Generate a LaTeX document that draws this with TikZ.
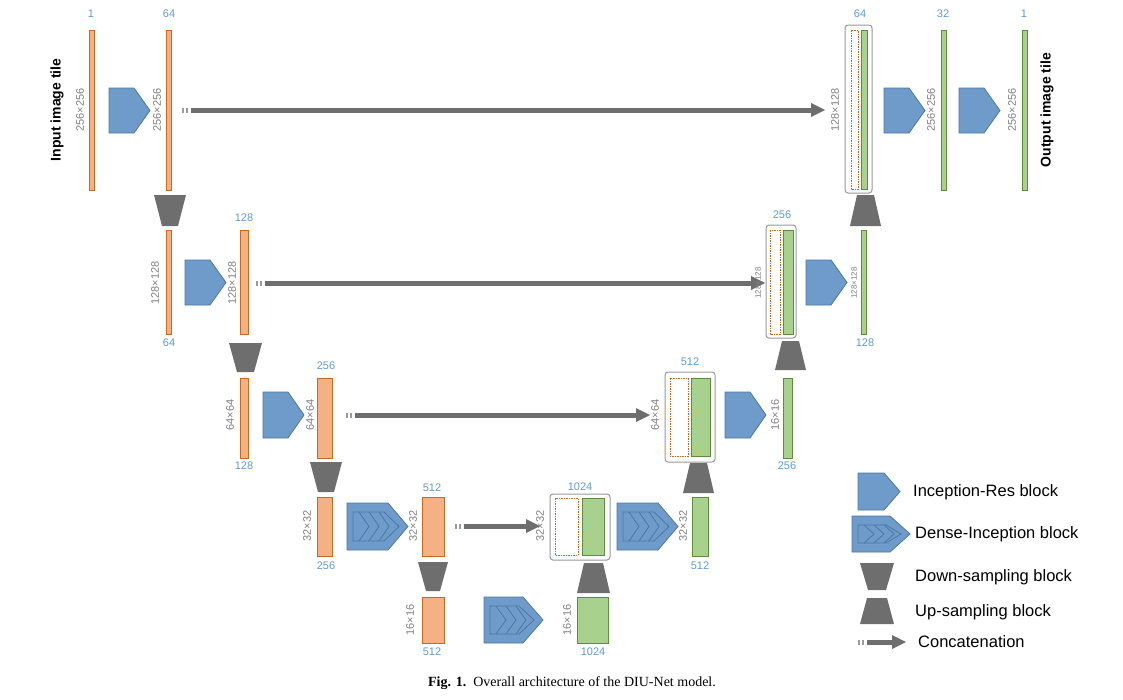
\documentclass[tikz,border=0pt]{standalone}
\usepackage{fontspec}
\setmainfont{Liberation Sans}
\newfontfamily\capf{Liberation Serif}
\definecolor{ofill}{HTML}{F4B183}\definecolor{odraw}{HTML}{D0651E}
\definecolor{gfill}{HTML}{A9D18E}\definecolor{gdraw}{HTML}{5E8C3C}
\definecolor{bfill}{HTML}{6E9BC9}\definecolor{bdraw}{HTML}{4A77A6}
\definecolor{dgray}{HTML}{6E6E6E}\definecolor{lblue}{HTML}{5B9BD5}\definecolor{sgray}{HTML}{808080}
\tikzset{
 obar/.style={fill=ofill,draw=odraw,line width=1pt},
 gbar/.style={fill=gfill,draw=gdraw,line width=1pt},
 blk/.style={fill=bfill,draw=bdraw,line width=0.8pt},
 trap/.style={fill=dgray,draw=none},
 cbox/.style={draw=gray!80,line width=1pt,rounded corners=3pt,fill=white},
 dbox/.style={draw=odraw,dashed,dash pattern=on 1.5pt off 1pt,line width=1pt},
 num/.style={text=lblue,font=\fontsize{11}{12}\selectfont,inner sep=0},
 sz/.style={text=sgray,rotate=90,font=\fontsize{11}{12}\selectfont,inner sep=0},
 szs/.style={text=sgray,rotate=90,font=\fontsize{8}{9}\selectfont,inner sep=0},
 leg/.style={anchor=west,font=\fontsize{16.5}{18}\selectfont,inner sep=0},
}
\newcommand\incp[4]{\draw[blk] (#1,#3) -- ({#2-16},#3) -- (#2,{(#3+#4)/2}) -- ({#2-16},#4) -- (#1,#4) -- cycle;}
\newcommand\dens[4]{\draw[blk] (#1,#3) -- ({#2-20},#3) -- (#2,{(#3+#4)/2}) -- ({#2-20},#4) -- (#1,#4) -- cycle;
 \draw[bdraw,line width=0.8pt] ({#1+6},{#3+9}) -- ({#2-24},{#3+9}) -- ({#2-9},{(#3+#4)/2}) -- ({#2-24},{#4-9}) -- ({#1+6},{#4-9}) -- cycle;
 \foreach \k in {0,10,20}{\draw[bdraw,line width=0.8pt] ({#1+12+\k},{#3+9}) -- ({#1+22+\k},{(#3+#4)/2}) -- ({#1+12+\k},{#4-9});}}
\newcommand\down[4]{\fill[dgray] (#1,#3) -- (#2,#3) -- ({#2-8},#4) -- ({#1+8},#4) -- cycle;}
\newcommand\up[4]{\fill[dgray] ({#1+7},#3) -- ({#2-7},#3) -- (#2,#4) -- (#1,#4) -- cycle;}
\newcommand\skiparr[3]{\fill[dgray!70] (#1,{#3-2.5}) rectangle ({#1+2},{#3+2.5});
 \fill[dgray!70] ({#1+4},{#3-2.5}) rectangle ({#1+6},{#3+2.5});
 \fill[dgray] ({#1+9},{#3-2.5}) rectangle ({#2-14},{#3+2.5});
 \fill[dgray] ({#2-14},{#3-7}) -- (#2,#3) -- ({#2-14},{#3+7}) -- cycle;}
\begin{document}
\begin{tikzpicture}[x=1pt,y=-1pt]
\useasboundingbox (0,0) rectangle (1123,699);
% ---- row 1
\draw[obar] (89,30) rectangle (94,190) coordinate (in1);
\node[num] at (91,14) {1};
\node[sz] at (80,110) {256×256};
\node[rotate=90,font=\bfseries\fontsize{14}{16}\selectfont,inner sep=0] at (57,110) {Input image tile};
\incp{109}{150}{88}{133}
\draw[obar] (166,30) rectangle (171,190);
\node[num] at (169,14) {64};
\node[sz] at (157,110) {256×256};
\skiparr{182}{825}{110}
\draw[cbox] (845,25) rectangle (872,193);
\draw[dbox] (851,30) rectangle (858,189);
\draw[gbar] (861,30) rectangle (867,189);
\node[num] at (860,14) {64};
\node[sz] at (835,110) {128×128};
\incp{884}{925}{88}{133}
\draw[gbar] (941,30) rectangle (946,190);
\node[num] at (943,14) {32};
\node[sz] at (931,110) {256×256};
\incp{959}{1000}{88}{133}
\draw[gbar] (1022,30) rectangle (1027,190);
\node[num] at (1024,14) {1};
\node[sz] at (1012,110) {256×256};
\node[rotate=90,font=\bfseries\fontsize{14}{16}\selectfont,inner sep=0] at (1047,110) {Output image tile};
\down{154}{186}{195}{226}
\up{850}{881}{195}{226}
% ---- row 2
\draw[obar] (166,230) rectangle (171,334);
\node[num] at (169,343) {64};
\node[sz] at (155,283) {128×128};
\incp{185}{226}{260}{305}
\draw[obar] (240,230) rectangle (248,334);
\node[num] at (244,218) {128};
\node[sz] at (232,283) {128×128};
\skiparr{256}{765}{283}
\draw[cbox] (766,225) rectangle (796,338);
\draw[dbox] (770,230) rectangle (780,334);
\draw[gbar] (783,230) rectangle (793,334);
\node[num] at (782,215) {256};
\node[szs] at (758,283) {128×128};
\incp{806}{847}{260}{305}
\draw[gbar] (861,230) rectangle (866,334);
\node[num] at (865,343) {128};
\node[szs] at (854,283) {128×128};
\down{229}{262}{343}{372}
\up{775}{806}{341}{370}
% ---- row 3
\draw[obar] (240,378) rectangle (248,458);
\node[num] at (244,466) {128};
\node[sz] at (230,415) {64×64};
\incp{263}{304}{392}{438}
\draw[obar] (317,378) rectangle (332,458);
\node[num] at (326,366) {256};
\node[sz] at (310,415) {64×64};
\skiparr{346}{650}{415}
\draw[cbox] (665,372) rectangle (715,462);
\draw[dbox] (670,378) rectangle (688,456);
\draw[gbar] (691,378) rectangle (710,456);
\node[num] at (690,362) {512};
\node[sz] at (655,415) {64×64};
\incp{725}{766}{392}{438}
\draw[gbar] (783,378) rectangle (792,458);
\node[num] at (787,466) {256};
\node[sz] at (775,415) {16×16};
\down{310}{342}{462}{492}
\up{683}{714}{463}{493}
% ---- row 4
\draw[obar] (317,497) rectangle (332,556);
\node[num] at (326,566) {256};
\node[sz] at (307,526) {32×32};
\dens{347}{408}{503}{550}
\draw[obar] (422,497) rectangle (444,556);
\node[num] at (432,488) {512};
\node[sz] at (413,526) {32×32};
\skiparr{455}{540}{526}
\draw[cbox] (550,494) rectangle (610,560);
\draw[dbox] (555,498) rectangle (578,555);
\draw[gbar] (582,498) rectangle (604,555);
\node[num] at (580,487) {1024};
\node[sz] at (540,526) {32×32};
\dens{617}{678}{503}{550}
\draw[gbar] (692,497) rectangle (708,556);
\node[num] at (700,566) {512};
\node[sz] at (683,526) {32×32};
\down{418}{448}{562}{591}
\up{577}{610}{563}{593}
% ---- row 5
\draw[obar] (422,597) rectangle (444,643);
\node[num] at (432,652) {512};
\node[sz] at (410,620) {16×16};
\dens{484}{543}{597}{643}
\draw[gbar] (577,597) rectangle (608,643);
\node[num] at (593,652) {1024};
\node[sz] at (567,620) {16×16};
% ---- legend
\incp{858}{900}{473}{510}
\node[leg] at (913,492) {Inception-Res block};
\dens{852}{910}{516}{552}
\node[leg] at (915,534) {Dense-Inception block};
\down{860}{894}{563}{590}
\node[leg] at (915,577) {Down-sampling block};
\up{860}{894}{598}{624}
\node[leg] at (915,612) {Up-sampling block};
\skiparr{858}{906}{642}
\node[leg] at (918,642) {Concatenation};
% caption
\node[font=\capf\fontsize{14}{16}\selectfont,inner sep=0] at (572,683) {\textbf{Fig. 1.}\enspace Overall architecture of the DIU-Net model.};
\end{tikzpicture}
\end{document}
